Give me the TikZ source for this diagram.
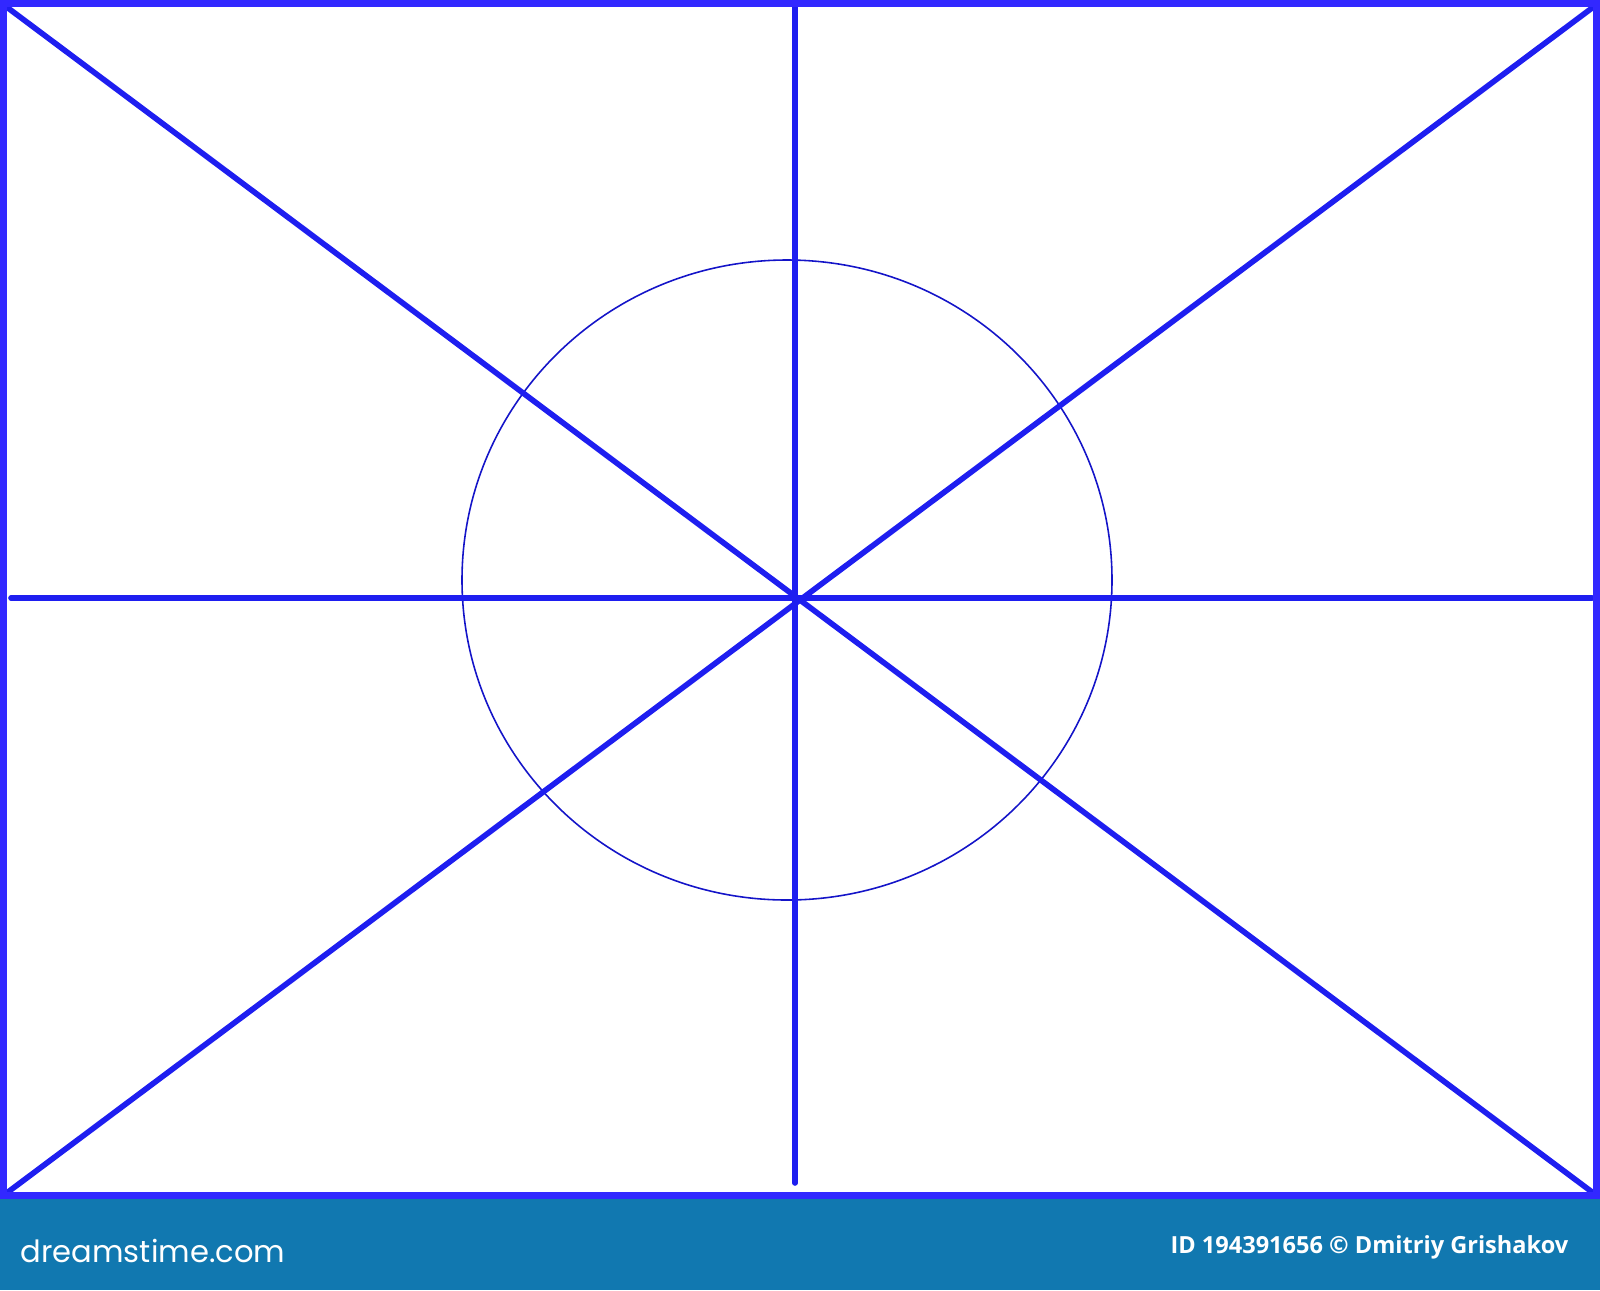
\documentclass[tikz,border=0pt]{standalone}
\usepackage{fontspec}
\newfontfamily\logofont{Poppins}
\newfontfamily\creditfont{Open Sans}
\definecolor{lineblue}{RGB}{30,30,240}
\definecolor{framblue}{RGB}{50,40,255}
\definecolor{ringblue}{RGB}{20,20,200}
\definecolor{bannerblue}{RGB}{17,120,176}
\tikzset{
  axisline/.style={lineblue,line width=1.6pt,line cap=round},
  frameline/.style={framblue,line width=2pt},
  ringline/.style={ringblue,line width=0.45pt},
  bannertext/.style={white,inner sep=0pt}
}

\begin{document}
\begin{tikzpicture}[x=0.01cm,y=-0.01cm]
  \useasboundingbox (0,0) rectangle (1600,1290);
  % corners, centre and ends
  \coordinate (tl) at (8,8);
  \coordinate (tr) at (1592,8);
  \coordinate (bl) at (8,1192);
  \coordinate (br) at (1592,1192);
  \coordinate (mid) at (795,598);
  \coordinate (top) at (795,7);
  \coordinate (bot) at (795,1183);
  \coordinate (lft) at (11,598);
  \coordinate (rgt) at (1592,598);
  % banner
  \fill[bannerblue] (0,1199) rectangle (1600,1290);
  \node[bannertext,anchor=base west] (logo) at (20,1262)
    {\logofont\fontsize{8.7}{10}\selectfont dreamstime.com};
  \node[bannertext,anchor=base east] (credit) at (1569,1253)
    {\creditfont\bfseries\fontsize{6.7}{8}\selectfont ID 194391656 © Dmitriy Grishakov};
  % ring
  \draw[ringline] (787,580) ellipse (325 and 320);
  % axes and diagonals
  \draw[axisline] (top) -- (bot);
  \draw[axisline] (lft) -- (rgt);
  \draw[axisline] (tl) -- (br);
  \draw[axisline] (tr) -- (bl);
  % frame
  \draw[frameline] (3.5,3.5) rectangle (1596.5,1195.5);
\end{tikzpicture}
\end{document}
